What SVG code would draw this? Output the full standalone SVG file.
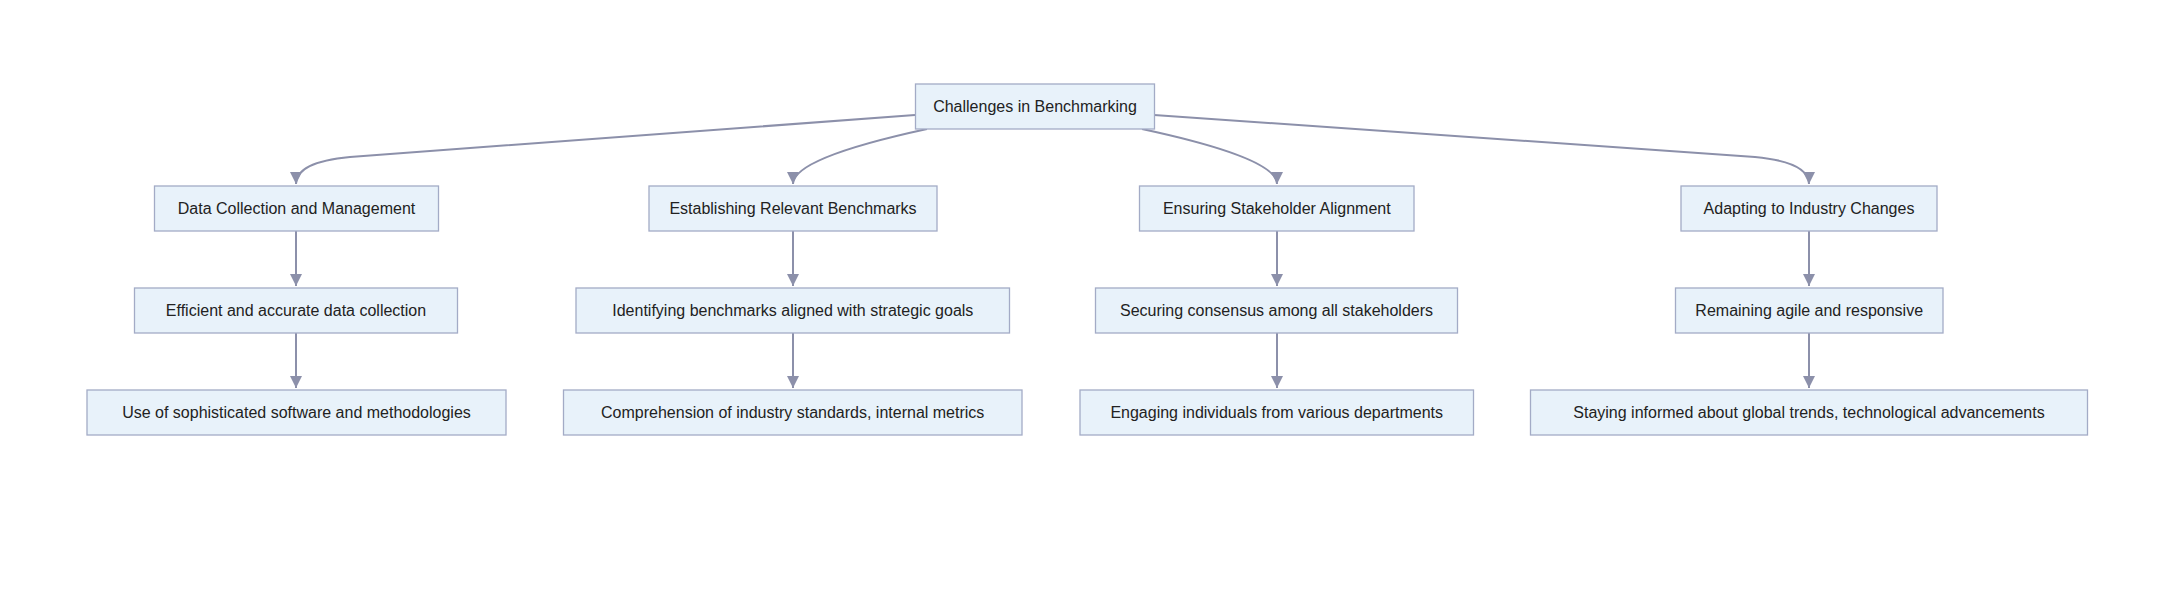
<svg xmlns="http://www.w3.org/2000/svg" width="2181" height="597" viewBox="0 0 2181 597">
<style>
.n rect{fill:#e8f2fa;stroke:#a3abc6;stroke-width:1.3}
.n text{font-family:"Liberation Sans",Arial,sans-serif;font-size:16px;fill:#222;text-anchor:middle;dominant-baseline:central}
.e path{fill:none;stroke:#8c90aa;stroke-width:2}
</style>
<defs>
<marker id="a" markerUnits="userSpaceOnUse" markerWidth="14" markerHeight="14" refX="12" refY="7" orient="auto">
<path d="M0,1 L12,7 L0,13 z" fill="#8c90aa"/>
</marker>
</defs>
<rect width="2181" height="597" fill="#fff"/>
<g class="e">
<path d="M915,115 L350,157 Q296,162 296,184" marker-end="url(#a)"/>
<path d="M927,129 Q793,158 793,184" marker-end="url(#a)"/>
<path d="M1142,129 Q1277,158 1277,184" marker-end="url(#a)"/>
<path d="M1154,115 L1755,157 Q1809,162 1809,184" marker-end="url(#a)"/>
<path d="M296,231 L296,286" marker-end="url(#a)"/>
<path d="M296,333 L296,388" marker-end="url(#a)"/>
<path d="M793,231 L793,286" marker-end="url(#a)"/>
<path d="M793,333 L793,388" marker-end="url(#a)"/>
<path d="M1277,231 L1277,286" marker-end="url(#a)"/>
<path d="M1277,333 L1277,388" marker-end="url(#a)"/>
<path d="M1809,231 L1809,286" marker-end="url(#a)"/>
<path d="M1809,333 L1809,388" marker-end="url(#a)"/>
</g>
<g id="root" class="n"><rect x="915.5" y="84" width="239" height="45"/><text x="1035" y="106.5">Challenges in Benchmarking</text></g>
<g id="dc" class="n"><rect x="154.5" y="186" width="284" height="45"/><text x="296.5" y="208.5">Data Collection and Management</text></g>
<g id="eb" class="n"><rect x="649" y="186" width="288" height="45"/><text x="793" y="208.5">Establishing Relevant Benchmarks</text></g>
<g id="es" class="n"><rect x="1139.5" y="186" width="274.5" height="45"/><text x="1276.8" y="208.5">Ensuring Stakeholder Alignment</text></g>
<g id="ad" class="n"><rect x="1681" y="186" width="256" height="45"/><text x="1809" y="208.5">Adapting to Industry Changes</text></g>
<g id="ef" class="n"><rect x="134.5" y="288" width="323" height="45"/><text x="296" y="310.5">Efficient and accurate data collection</text></g>
<g id="id" class="n"><rect x="576" y="288" width="433.5" height="45"/><text x="792.8" y="310.5">Identifying benchmarks aligned with strategic goals</text></g>
<g id="se" class="n"><rect x="1095.5" y="288" width="362" height="45"/><text x="1276.5" y="310.5">Securing consensus among all stakeholders</text></g>
<g id="re" class="n"><rect x="1675.5" y="288" width="267.5" height="45"/><text x="1809.2" y="310.5">Remaining agile and responsive</text></g>
<g id="us" class="n"><rect x="87" y="390" width="419" height="45"/><text x="296.5" y="412.5">Use of sophisticated software and methodologies</text></g>
<g id="co" class="n"><rect x="563.5" y="390" width="458.5" height="45"/><text x="792.7" y="412.5">Comprehension of industry standards, internal metrics</text></g>
<g id="en" class="n"><rect x="1080" y="390" width="393.5" height="45"/><text x="1276.7" y="412.5">Engaging individuals from various departments</text></g>
<g id="st" class="n"><rect x="1530.5" y="390" width="557" height="45"/><text x="1809" y="412.5">Staying informed about global trends, technological advancements</text></g>
</svg>
